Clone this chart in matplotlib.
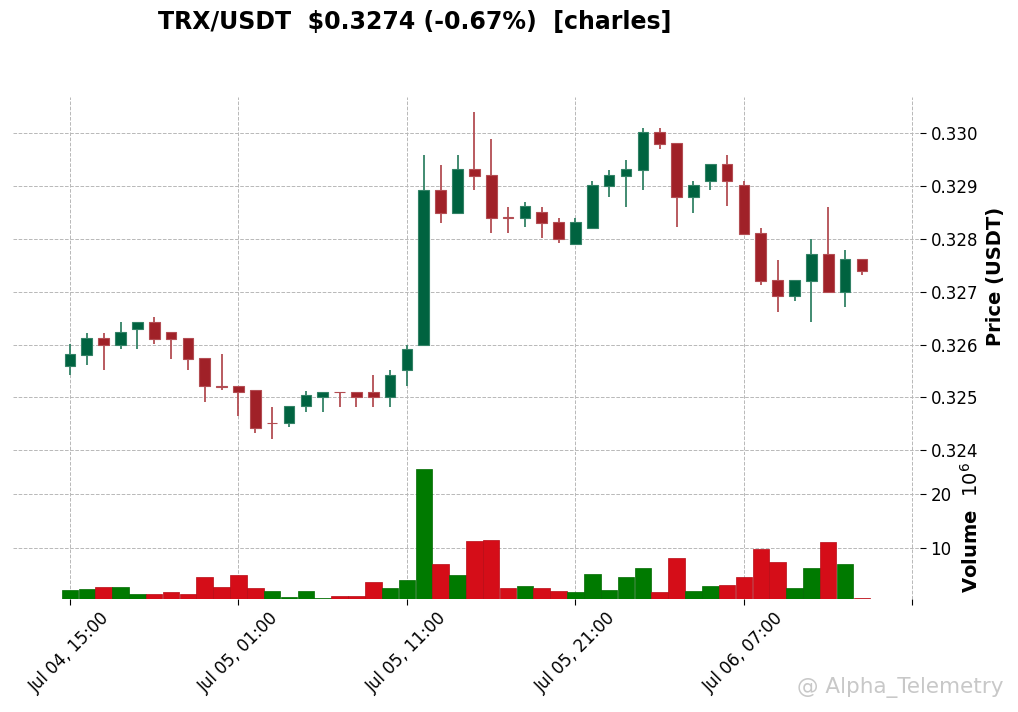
import numpy as np
import matplotlib
matplotlib.use('Agg')
import matplotlib.pyplot as plt
from matplotlib.ticker import FixedLocator, FuncFormatter

# hourly candles, first one is Jul 04 15:00
START = '2025-07-04 15:00'
opens = [0.32560, 0.32581, 0.32613, 0.32600, 0.32630, 0.32643, 0.32623, 0.32613,
         0.32574, 0.32522, 0.32522, 0.32513, 0.32451, 0.32451, 0.32483, 0.32500,
         0.32511, 0.32511, 0.32511, 0.32500, 0.32551, 0.32600, 0.32892, 0.32849,
         0.32932, 0.32921, 0.32841, 0.32840, 0.32851, 0.32832, 0.32791, 0.32821,
         0.32900, 0.32919, 0.32930, 0.33002, 0.32981, 0.32879, 0.32909, 0.32942,
         0.32902, 0.32811, 0.32723, 0.32691, 0.32721, 0.32772, 0.32700, 0.32762]
highs = [0.32601, 0.32621, 0.32621, 0.32642, 0.32643, 0.32652, 0.32623, 0.32613,
         0.32574, 0.32582, 0.32522, 0.32513, 0.32482, 0.32483, 0.32512, 0.32511,
         0.32511, 0.32511, 0.32542, 0.32552, 0.32600, 0.32959, 0.32940, 0.32959,
         0.33040, 0.32989, 0.32861, 0.32870, 0.32861, 0.32840, 0.32840, 0.32910,
         0.32931, 0.32950, 0.33010, 0.33010, 0.32981, 0.32910, 0.32942, 0.32959,
         0.32910, 0.32821, 0.32761, 0.32723, 0.32800, 0.32861, 0.32780, 0.32762]
lows = [0.32542, 0.32561, 0.32552, 0.32592, 0.32592, 0.32601, 0.32572, 0.32552,
        0.32492, 0.32513, 0.32464, 0.32433, 0.32422, 0.32443, 0.32473, 0.32473,
        0.32482, 0.32482, 0.32482, 0.32482, 0.32522, 0.32600, 0.32831, 0.32849,
        0.32892, 0.32811, 0.32811, 0.32822, 0.32801, 0.32792, 0.32791, 0.32821,
        0.32880, 0.32861, 0.32892, 0.32970, 0.32822, 0.32850, 0.32892, 0.32862,
        0.32809, 0.32713, 0.32662, 0.32682, 0.32643, 0.32700, 0.32671, 0.32731]
closes = [0.32583, 0.32613, 0.32600, 0.32623, 0.32643, 0.32611, 0.32611, 0.32572,
          0.32521, 0.32520, 0.32511, 0.32442, 0.32451, 0.32483, 0.32504, 0.32511,
          0.32510, 0.32500, 0.32500, 0.32543, 0.32592, 0.32892, 0.32849, 0.32932,
          0.32919, 0.32840, 0.32840, 0.32862, 0.32830, 0.32800, 0.32832, 0.32902,
          0.32921, 0.32932, 0.33002, 0.32979, 0.32879, 0.32902, 0.32942, 0.32909,
          0.32809, 0.32721, 0.32691, 0.32723, 0.32772, 0.32700, 0.32762, 0.32740]
# volume in millions
volumes_m = [2.28, 2.47, 2.84, 2.84, 1.54, 1.54, 1.91, 1.54, 4.69, 2.84, 5.06, 2.65,
             2.10, 0.99, 2.10, 0.80, 1.17, 1.17, 3.77, 2.65, 4.14, 24.7, 7.10, 5.06,
             11.36, 11.54, 2.65, 3.02, 2.65, 2.10, 1.91, 5.25, 2.28, 4.69, 6.36, 1.91,
             8.21, 2.10, 3.02, 3.21, 4.69, 9.88, 7.47, 2.65, 6.36, 11.17, 7.10, 0.75]

TITLE = 'TRX/USDT  $0.3274 (-0.67%)  [charles]'

UP, DOWN = '#006340', '#A02128'
UP_WICK, DOWN_WICK = '#338266', '#b34d53'
VUP, VDOWN = '#007a00', '#d50d18'
GRID = '#b8b8b8'


def main():
    o = np.array(opens)
    h = np.array(highs)
    l = np.array(lows)
    c = np.array(closes)
    v = np.array(volumes_m) * 1e6
    x = np.arange(len(o))
    times = [t.strftime('%b %d, %H:%M') for t in
             __import__('pandas').date_range(START, periods=len(o), freq='h')]

    up = c > o
    fig = plt.figure(figsize=(10.18, 7.12), dpi=100)
    ax = fig.add_axes([0.01277, 0.3604, 0.8910, 0.5027])
    axv = fig.add_axes([0.01277, 0.1587, 0.8910, 0.2017], sharex=ax)

    # candles
    ax.vlines(x, l, h, colors=np.where(up, UP_WICK, DOWN_WICK), linewidth=1.3, zorder=2)
    body_col = np.where(up, UP, DOWN)
    edge_col = np.where(up, UP_WICK, DOWN_WICK)
    ax.bar(x, np.abs(c - o), bottom=np.minimum(o, c), width=0.63,
           color=body_col, edgecolor=edge_col, linewidth=0.8, zorder=3)

    # volume
    vup = c >= o
    axv.bar(x, v, width=0.98, color=np.where(vup, VUP, VDOWN),
            edgecolor=np.where(vup, '#006a00', '#b80a14'), linewidth=0.5, zorder=2)

    ax.set_xlim(-3.38, 50.45)
    ax.set_ylim(0.32390, 0.33068)
    axv.set_ylim(0.6e6, 1.1 * v.max())

    ticks = list(range(0, 51, 10))
    for a in (ax, axv):
        for s in a.spines.values():
            s.set_visible(False)
        a.yaxis.tick_right()
        a.yaxis.set_label_position('right')
        a.grid(True, linestyle='--', color=GRID, linewidth=0.7, zorder=0)
        a.set_axisbelow(True)
        a.xaxis.set_major_locator(FixedLocator(ticks))
        a.tick_params(axis='y', labelsize=12, length=4, direction='out')

    ax.tick_params(axis='x', bottom=False, labelbottom=False)
    axv.tick_params(axis='x', labelsize=12, length=4)

    def fmt_date(val, pos):
        i = int(round(val))
        if 0 <= i < len(times):
            return times[i]
        return ''
    axv.xaxis.set_major_formatter(FuncFormatter(fmt_date))
    plt.setp(axv.get_xticklabels(), rotation=45, ha='center')

    ax.set_yticks([0.324, 0.325, 0.326, 0.327, 0.328, 0.329, 0.330])
    ax.yaxis.set_major_formatter(FuncFormatter(lambda val, pos: '%.3f' % val))
    axv.set_yticks([10e6, 20e6])
    axv.yaxis.set_major_formatter(FuncFormatter(lambda val, pos: '%d' % (val / 1e6)))

    ax.set_ylabel('Price (USDT)', fontsize=14, fontweight='bold', labelpad=6)
    axv.set_ylabel('Volume  $10^{6}$', fontsize=14, fontweight='bold', labelpad=6)

    fig.text(415 / 1018, 1 - 22 / 712, TITLE, fontsize=17, fontweight='bold',
             ha='center', va='center')
    fig.text(797 / 1018, 1 - 688 / 712, '@ Alpha_Telemetry', fontsize=15.5,
             color='#c8c8c8', ha='left', va='center')

    fig.savefig('out.png', dpi=100)


if __name__ == "__main__":
    main()
